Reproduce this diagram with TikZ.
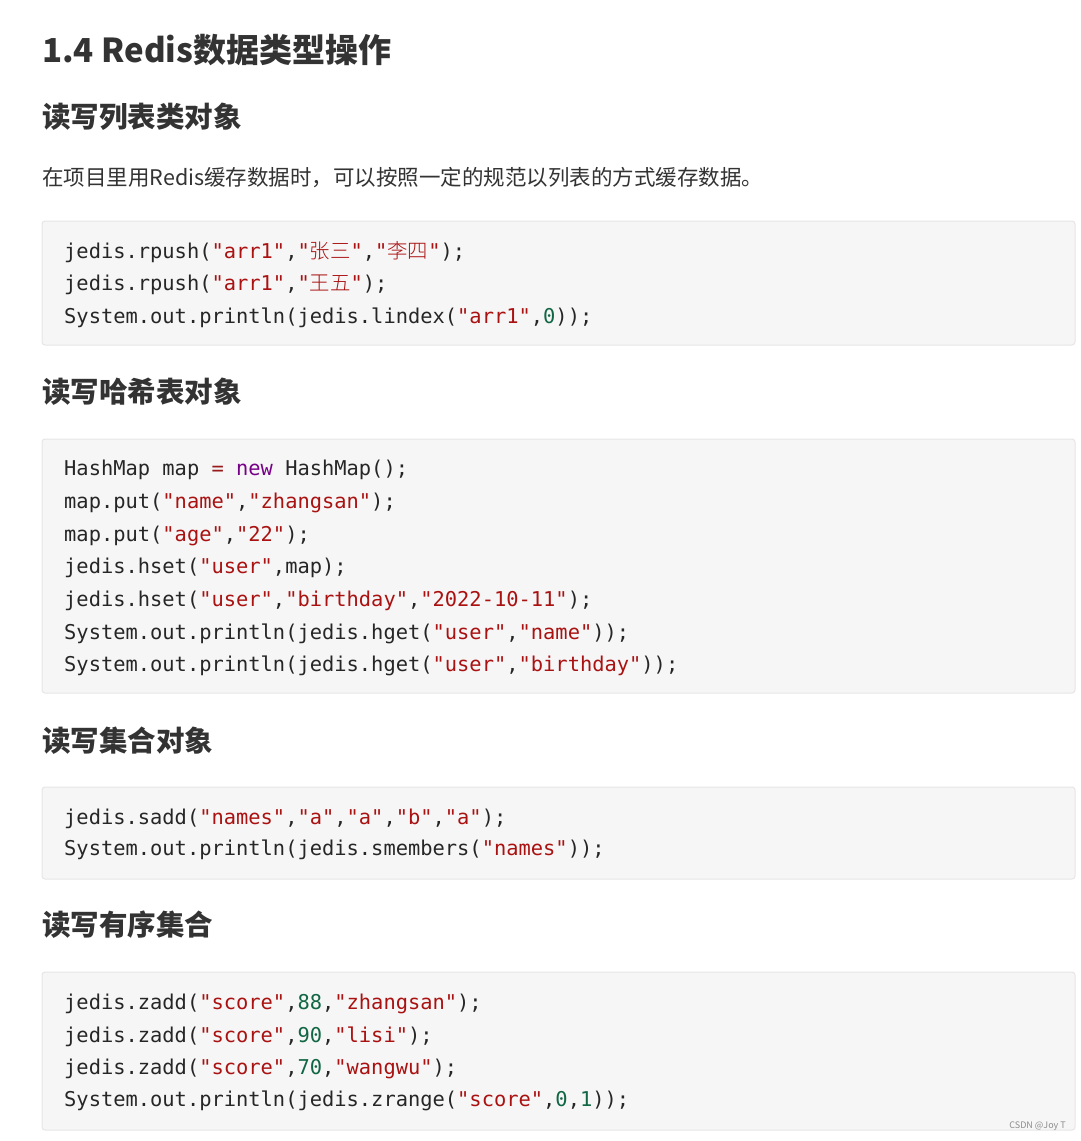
\documentclass[tikz,border=0pt]{standalone}
\usepackage{fontspec}
\setmainfont{Noto Sans CJK SC}
\setmonofont{DejaVu Sans Mono}
\newfontfamily\cjk{Noto Sans CJK SC Light}
\definecolor{txt}{HTML}{333333}
\definecolor{strc}{HTML}{AA1111}
\definecolor{numc}{HTML}{116644}
\definecolor{kwc}{HTML}{770088}
\definecolor{opc}{HTML}{981A1A}
\definecolor{boxf}{HTML}{F6F6F6}
\definecolor{boxd}{HTML}{E6E6E6}
\newcommand{\qs}[1]{\textcolor{strc}{#1}}
\newcommand{\qn}[1]{\textcolor{numc}{#1}}
\tikzset{
  title/.style={anchor=west,inner sep=0,text=txt,font=\fontsize{33}{36}\selectfont\bfseries},
  subhead/.style={anchor=west,inner sep=0,text=txt,font=\fontsize{28.5}{32}\selectfont\bfseries},
  bodytext/.style={anchor=west,inner sep=0,text=txt,font=\fontsize{21.5}{26}\selectfont},
  code/.style={anchor=west,inner sep=0,text=black!85,font=\ttfamily\fontsize{20.4}{24}\selectfont},
  codebox/.style={draw=boxd,fill=boxf,rounded corners=3pt,line width=1pt},
}
\begin{document}
\begin{tikzpicture}[x=1pt,y=-1pt]
\useasboundingbox (0,0) rectangle (1080,1141);
\fill[white] (0,0) rectangle (1080,1141);
\node[title] (t) at (42,50) {1.4 Redis数据类型操作};
\node[subhead] (h1) at (42,117) {读写列表类对象};
\node[bodytext] (p1) at (42,178) {在项目里用Redis缓存数据时，可以按照一定的规范以列表的方式缓存数据。};
\draw[codebox] (42,221) rectangle (1075,345);
\node[code] (a1) at (64,252) {jedis.rpush(\qs{"arr1"},\qs{"{\cjk 张三}"},\qs{"{\cjk 李四}"});};
\node[code] (a2) at (64,285) {jedis.rpush(\qs{"arr1"},\qs{"{\cjk 王五}"});};
\node[code] (a3) at (64,318) {System.out.println(jedis.lindex(\qs{"arr1"},\qn{0}));};
\node[subhead] (h2) at (42,392) {读写哈希表对象};
\draw[codebox] (42,439) rectangle (1075,693);
\node[code] (b1) at (64,470) {HashMap map \textcolor{opc}{=} \textcolor{kwc}{new} HashMap();};
\node[code] (b2) at (64,503) {map.put(\qs{"name"},\qs{"zhangsan"});};
\node[code] (b3) at (64,536) {map.put(\qs{"age"},\qs{"22"});};
\node[code] (b4) at (64,568) {jedis.hset(\qs{"user"},map);};
\node[code] (b5) at (64,601) {jedis.hset(\qs{"user"},\qs{"birthday"},\qs{"2022-10-11"});};
\node[code] (b6) at (64,634) {System.out.println(jedis.hget(\qs{"user"},\qs{"name"}));};
\node[code] (b7) at (64,666) {System.out.println(jedis.hget(\qs{"user"},\qs{"birthday"}));};
\node[subhead] (h3) at (42,741) {读写集合对象};
\draw[codebox] (42,787) rectangle (1075,879);
\node[code] (c1) at (64,819) {jedis.sadd(\qs{"names"},\qs{"a"},\qs{"a"},\qs{"b"},\qs{"a"});};
\node[code] (c2) at (64,850) {System.out.println(jedis.smembers(\qs{"names"}));};
\node[subhead] (h4) at (42,925) {读写有序集合};
\draw[codebox] (42,972) rectangle (1075,1130);
\node[code] (d1) at (64,1004) {jedis.zadd(\qs{"score"},\qn{88},\qs{"zhangsan"});};
\node[code] (d2) at (64,1037) {jedis.zadd(\qs{"score"},\qn{90},\qs{"lisi"});};
\node[code] (d3) at (64,1069) {jedis.zadd(\qs{"score"},\qn{70},\qs{"wangwu"});};
\node[code] (d4) at (64,1101) {System.out.println(jedis.zrange(\qs{"score"},\qn{0},\qn{1}));};
\node[anchor=east,inner sep=0,text=black!45,font=\fontsize{9}{10}\selectfont] (wm) at (1066,1126) {CSDN @Joy T};
\end{tikzpicture}
\end{document}
